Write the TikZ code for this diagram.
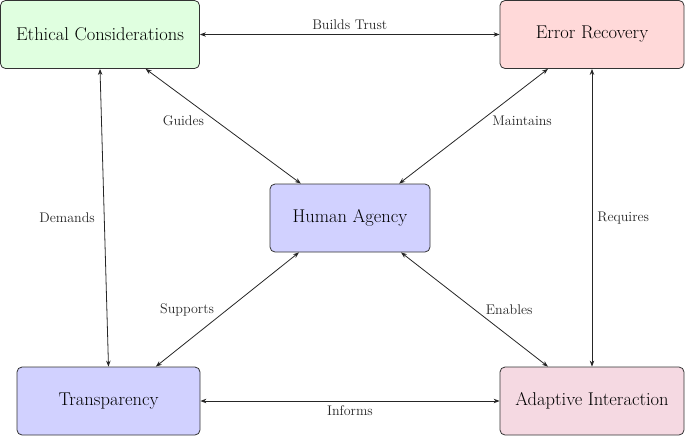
\documentclass[tikz,border=0pt]{standalone}
\usetikzlibrary{arrows.meta}
\begin{document}
\begin{tikzpicture}[x=1pt,y=-1pt,
 box/.style={draw=black!80,rounded corners=5pt,line width=0.8pt,minimum height=68pt,font=\fontsize{18.5}{22}\selectfont,inner sep=1pt},
 lab/.style={font=\fontsize{14}{17}\selectfont,inner sep=1pt},
 con/.style={{Stealth[length=6pt]}-{Stealth[length=6pt]},line width=0.8pt,black!85}]
\useasboundingbox (0,0) rectangle (685,437);
\node[box,fill=green!12,minimum width=199pt] (eth) at (100,34.5) {Ethical Considerations};
\node[box,fill=red!15,minimum width=184pt] (err) at (592,34.5) {Error Recovery};
\node[box,fill=blue!18,minimum width=160pt] (hum) at (350,218) {Human Agency};
\node[box,fill=blue!18,minimum width=183pt] (tra) at (108.5,401) {Transparency};
\node[box,fill=purple!15,minimum width=184pt] (ada) at (592,401) {Adaptive Interaction};
\draw[con] (eth) -- node[lab,above=3pt]{Builds Trust} (err);
\draw[con] (eth.-37) -- node[lab,pos=0.45,left=10pt]{Guides} (hum.145);
\draw[con] (err.-142) -- node[lab,pos=0.45,right=10pt]{Maintains} (hum.35);
\draw[con] (eth.south) -- node[lab,left=8pt]{Demands} (tra.north);
\draw[con] (err.south) -- node[lab,right=4pt]{Requires} (ada.north);
\draw[con] (hum.-146) -- node[lab,pos=0.5,left=12pt]{Supports} (tra.36);
\draw[con] (hum.-34) -- node[lab,pos=0.5,right=10pt]{Enables} (ada.142);
\draw[con] (tra) -- node[lab,below=3pt]{Informs} (ada);
\end{tikzpicture}
\end{document}
